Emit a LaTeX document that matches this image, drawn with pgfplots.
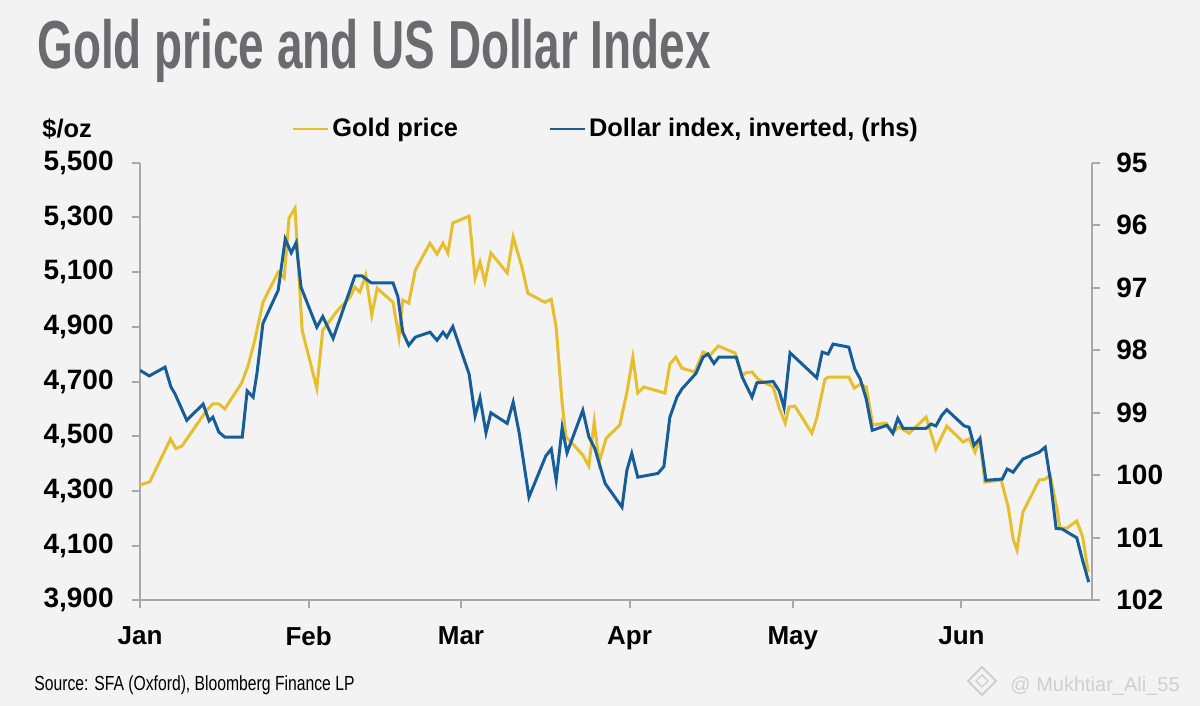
\documentclass[border=0pt]{standalone}
\usepackage{fontspec}
\setmainfont{Liberation Sans}
\newfontfamily\titlefont[FakeStretch=0.675]{Liberation Sans}
\newfontfamily\srcfont[FakeStretch=0.77]{Liberation Sans}
\usepackage{pgfplots}
\pgfplotsset{compat=1.18}
\definecolor{bg}{HTML}{F3F3F3}
\definecolor{goldc}{HTML}{E6BE2E}
\definecolor{bluec}{HTML}{175E98}
\definecolor{axgrey}{HTML}{A8A8A8}
\definecolor{titlegrey}{HTML}{6B6B6E}
\definecolor{wmgrey}{HTML}{CFCFCF}
\begin{document}
\begin{tikzpicture}
\path[use as bounding box, fill=bg] (0,0) rectangle (600pt,353pt);
\begin{axis}[
  at={(70pt,52.85pt)}, anchor=south west, scale only axis,
  width=476pt, height=218.75pt,
  xmin=0, xmax=175, ymin=3900, ymax=5500,
  axis x line*=bottom, axis y line*=left,
  axis line style={axgrey, line width=1.2pt, -},
  tick align=outside, major tick length=4pt,
  tick style={axgrey, line width=1pt},
  xtick={0,31,59,90,120,151},
  xticklabels={Jan,Feb,Mar,Apr,May,Jun},
  ytick={3900,4100,4300,4500,4700,4900,5100,5300,5500},
  scaled y ticks=false,
  /pgf/number format/assume math mode=true,
  yticklabel style={/pgf/number format/1000 sep={,}, font=\bfseries\fontsize{14}{16}\selectfont, inner sep=0pt, xshift=-9pt},
  xticklabel style={font=\bfseries\fontsize{13}{15}\selectfont, inner sep=0pt, yshift=-9pt},
]
\addplot[goldc, line width=1.5pt] coordinates {
(0,4322)(1.8,4333)(5.6,4490)(6.6,4455)(7.7,4464)(12.3,4596)(13.4,4618)(14.5,4618)
(15.6,4600)(18.7,4695)(19.9,4760)(21.1,4851)(22.6,4990)(25.4,5100)(26.5,5078)(27.4,5298)
(28.5,5334)(29.8,4888)(32.5,4676)(33.6,4888)(36.4,4962)(38.6,5008)(39.5,5045)(40.4,5027)
(41.5,5089)(42.6,4943)(43.6,5041)(46.5,4990)(47.6,4862)(48.3,4998)(49.4,4987)(50.6,5107)
(53.3,5206)(54.6,5166)(55.7,5206)(56.6,5170)(57.5,5280)(60.5,5305)(61.6,5078)(62.5,5137)
(63.4,5064)(64.5,5170)(67.5,5097)(68.6,5228)(70.2,5119)(71.3,5023)(74.4,4990)(75.6,5001)
(76.5,4899)(77.6,4621)(78.3,4497)(79.4,4475)(81.4,4431)(82.5,4391)(83.5,4552)(84.4,4405)
(85.7,4493)(88.2,4541)(89.5,4661)(90.6,4789)(91.5,4658)(92.6,4680)(96.5,4658)(97.4,4764)
(98.5,4789)(99.6,4749)(102.0,4735)(103.5,4808)(104.8,4797)(106.3,4830)(109.4,4804)(110.7,4720)
(111.2,4731)(112.5,4735)(113.6,4709)(116.4,4680)(117.5,4603)(118.6,4548)(119.3,4607)(120.4,4610)
(123.5,4511)(124.4,4566)(125.9,4708)(126.5,4716)(130.3,4716)(131.3,4676)(132.4,4690)(133.5,4680)
(134.7,4541)(137.1,4548)(138.4,4515)(139.5,4533)(141.4,4511)(144.5,4570)(146.3,4453)(148.3,4537)
(151.3,4479)(152.4,4490)(153.5,4442)(154.4,4490)(155.3,4332)(158.3,4340)(159.6,4241)(160.5,4124)
(161.2,4084)(162.3,4223)(165.3,4340)(166.4,4343)(167.3,4358)(168.6,4230)(169.1,4164)(170.4,4164)
(172.2,4190)(173.3,4131)(174.3,4003)
};
\end{axis}
\begin{axis}[
  at={(70pt,52.85pt)}, anchor=south west, scale only axis,
  width=476pt, height=218.75pt,
  xmin=0, xmax=175, ymin=95, ymax=102, y dir=reverse,
  axis x line=none, axis y line*=right,
  axis line style={axgrey, line width=1.2pt, -},
  tick align=outside, major tick length=4pt,
  tick style={axgrey, line width=1pt},
  ytick={95,96,97,98,99,100,101,102},
  /pgf/number format/assume math mode=true,
  yticklabel style={font=\bfseries\fontsize{14}{16}\selectfont, inner sep=0pt, anchor=west, xshift=8pt},
  legend columns=2,
  legend style={at={(0.1597,1.0773)}, anchor=west, draw=none, fill=none, inner sep=0pt,
    font=\bfseries\fontsize{12.7}{15}\selectfont,
    nodes={inner sep=1.5pt},
    /tikz/every even column/.append style={column sep=44pt}},
  legend image code/.code={\draw[#1, line width=1pt] (0pt,0pt) -- (17.5pt,0pt);},
]
\addlegendimage{goldc}
\addlegendentry{Gold price}
\addplot[bluec, line width=1.5pt] coordinates {
(0,98.32)(1.7,98.41)(4.6,98.27)(5.7,98.59)(6.4,98.69)(8.6,99.12)(11.6,98.86)(12.7,99.13)
(13.4,99.07)(14.5,99.31)(15.6,99.39)(18.8,99.39)(19.7,98.65)(20.8,98.75)(21.5,98.37)(22.6,97.57)
(25.4,97.04)(26.7,96.22)(27.8,96.44)(28.7,96.28)(29.6,96.99)(32.5,97.63)(33.6,97.46)(35.5,97.81)
(39.5,96.81)(40.8,96.81)(42.5,96.92)(46.5,96.92)(47.4,97.14)(48.3,97.71)(49.4,97.92)(50.6,97.79)
(53.3,97.71)(54.6,97.84)(55.7,97.71)(56.4,97.79)(57.5,97.62)(60.5,98.38)(61.6,99.05)(62.5,98.76)
(63.6,99.32)(64.5,99.00)(67.5,99.17)(68.6,98.83)(69.7,99.32)(71.5,100.35)(74.6,99.69)(75.6,99.58)
(76.5,100.08)(77.6,99.24)(78.5,99.64)(81.4,98.96)(82.5,99.38)(83.6,99.57)(85.5,100.13)(88.6,100.51)
(89.5,99.92)(90.4,99.65)(91.5,100.03)(95.2,99.97)(96.3,99.86)(97.4,99.07)(98.7,98.75)(99.6,98.62)
(102.2,98.37)(103.5,98.11)(104.4,98.06)(105.5,98.21)(106.4,98.11)(109.6,98.11)(110.7,98.43)(112.5,98.75)
(113.4,98.52)(116.4,98.50)(117.5,98.65)(118.4,98.92)(119.5,98.04)(124.4,98.44)(125.4,98.03)(126.5,98.06)
(127.4,97.90)(130.3,97.95)(131.4,98.30)(132.4,98.46)(133.5,98.78)(134.6,99.28)(137.3,99.20)(138.4,99.33)
(139.3,99.09)(140.3,99.25)(144.5,99.25)(145.4,99.18)(146.3,99.21)(147.4,99.04)(148.3,98.95)(151.5,99.21)
(152.4,99.23)(153.3,99.52)(154.4,99.41)(155.5,100.08)(158.5,100.06)(159.4,99.90)(160.5,99.95)(162.3,99.74)
(165.3,99.63)(166.4,99.55)(167.3,100.05)(168.4,100.85)(169.5,100.86)(172.2,101.00)(173.3,101.37)(174.4,101.71)
};
\addlegendentry{Dollar index, inverted, (rhs)}
\end{axis}
\node[anchor=base west, inner sep=0pt, text=titlegrey, font=\titlefont\bfseries\fontsize{34}{40}\selectfont] at (18.5pt,318.5pt) {Gold price and US Dollar Index};
\node[anchor=base west, inner sep=0pt, font=\bfseries\fontsize{12.7}{15}\selectfont] at (21pt,284pt) {\$/oz};
\node[anchor=base west, inner sep=0pt, font=\srcfont\fontsize{10.2}{12}\selectfont] at (17pt,7.65pt) {Source: SFA (Oxford), Bloomberg Finance LP};
\draw[wmgrey, line width=0.9pt] (491pt,12.5pt) +(0,7pt) -- +(7pt,0) -- +(0,-7pt) -- +(-7pt,0) -- cycle;
\draw[wmgrey, line width=0.7pt] (491pt,12.5pt) +(0,3pt) -- +(3pt,0) -- +(0,-3pt) -- +(-3pt,0) -- cycle;
\node[anchor=base west, inner sep=0pt, text=wmgrey, font=\fontsize{10}{12}\selectfont] at (505pt,7pt) {@ Mukhtiar\_Ali\_55};
\end{tikzpicture}
\end{document}
